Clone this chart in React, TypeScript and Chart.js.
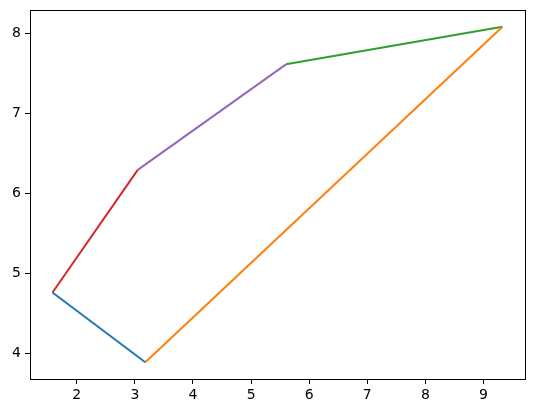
import React, { useEffect, useRef } from "react";
import { Chart, registerables } from "chart.js";

Chart.register(...registerables);

const segmentStartX = [1.583, 3.18, 9.326, 1.583, 3.05];
const segmentStartY = [4.758, 3.887, 8.079, 4.758, 6.29];
const segmentEndX = [3.18, 9.326, 5.6, 3.05, 5.6];
const segmentEndY = [3.887, 8.079, 7.61, 6.29, 7.61];
const segmentColors = ["#1f77b4", "#ff7f0e", "#2ca02c", "#d62728", "#9467bd"];
const xTicks = [2, 3, 4, 5, 6, 7, 8, 9];
const yTicks = [4, 5, 6, 7, 8];

const framePlugin = {
  id: "frame",
  afterDraw(chart: any) {
    const { ctx, chartArea } = chart;
    ctx.save();
    ctx.strokeStyle = "#000";
    ctx.lineWidth = 1;
    ctx.strokeRect(
      Math.round(chartArea.left) + 0.5,
      Math.round(chartArea.top) + 0.5,
      Math.round(chartArea.right - chartArea.left),
      Math.round(chartArea.bottom - chartArea.top)
    );
    ctx.restore();
  },
};

export default function App() {
  const ref = useRef<HTMLCanvasElement>(null);
  useEffect(() => {
    const datasets = segmentColors.map((c, i) => ({
      data: [
        { x: segmentStartX[i], y: segmentStartY[i] },
        { x: segmentEndX[i], y: segmentEndY[i] },
      ],
      showLine: true,
      borderColor: c,
      backgroundColor: c,
      borderWidth: 2,
      pointRadius: 0,
      pointHoverRadius: 0,
    }));
    const font = { family: "DejaVu Sans", size: 14 };
    const chart = new Chart(ref.current!, {
      type: "scatter",
      data: { datasets },
      plugins: [framePlugin],
      options: {
        animation: false,
        responsive: false,
        layout: { padding: { top: 10, right: 9, left: 0, bottom: 0 } },
        plugins: { legend: { display: false }, tooltip: { enabled: false } },
        scales: {
          x: {
            type: "linear",
            min: 1.196,
            max: 9.713,
            afterBuildTicks: (s: any) => {
              s.ticks = xTicks.map((v) => ({ value: v }));
            },
            afterFit: (s: any) => {
              s.height = 34;
              s.paddingLeft = 0;
              s.paddingRight = 0;
            },
            grid: {
              drawOnChartArea: false,
              drawTicks: true,
              tickLength: 5,
              tickColor: "#000",
            },
            border: { display: true, color: "#000" },
            ticks: { color: "#000", font, padding: 3, maxRotation: 0 },
          },
          y: {
            type: "linear",
            min: 3.677,
            max: 8.289,
            afterBuildTicks: (s: any) => {
              s.ticks = yTicks.map((v) => ({ value: v }));
            },
            afterFit: (s: any) => {
              s.width = 30;
              s.paddingTop = 0;
              s.paddingBottom = 0;
            },
            grid: {
              drawOnChartArea: false,
              drawTicks: true,
              tickLength: 5,
              tickColor: "#000",
            },
            border: { display: true, color: "#000" },
            ticks: { color: "#000", font, padding: 4 },
          },
        },
      },
    });
    return () => chart.destroy();
  }, []);
  return (
    <div style={{ position: "fixed", left: 0, top: 0, width: 534, height: 413, background: "#fff" }}>
      <canvas ref={ref} width={534} height={413} style={{ width: 534, height: 413 }} />
    </div>
  );
}
